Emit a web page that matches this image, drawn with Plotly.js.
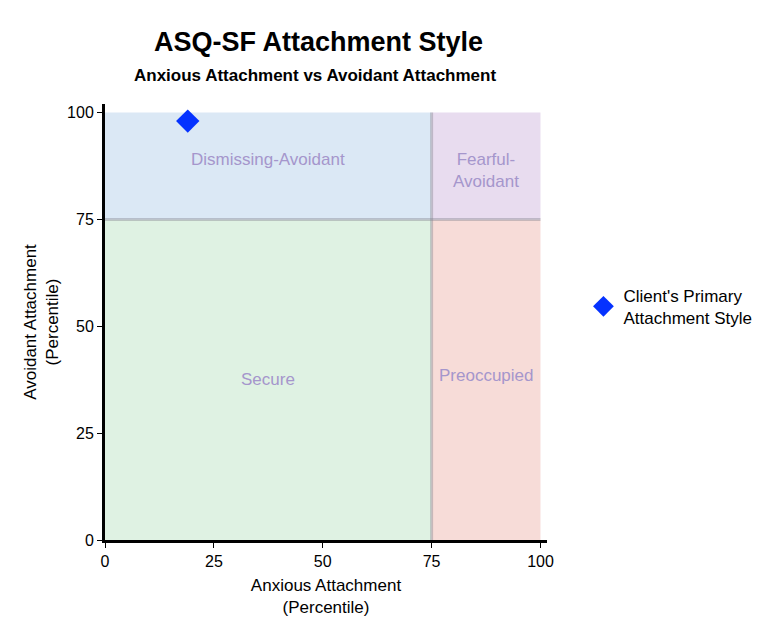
<!DOCTYPE html>
<html>
<head>
<meta charset="utf-8">
<script src="https://cdn.plot.ly/plotly-3.0.1.min.js"></script>
<style>html,body{margin:0;padding:0;background:#fff;}#chart{width:768px;height:622px;}</style>
</head>
<body>
<div id="chart"></div>
<script>
// Client point
const clientX = [19];
const clientY = [98];
const clientName = "Client's Primary<br>Attachment Style";

// Quadrants
const quadNames = ["Secure", "Dismissing-Avoidant", "Preoccupied", "Fearful-<br>Avoidant"];
const quadX0 = [0, 0, 75, 75];
const quadX1 = [75, 75, 100, 100];
const quadY0 = [0, 75, 0, 75];
const quadY1 = [75, 100, 75, 100];
const quadLabelY = [37.5, 89, 38.5, 86.5];
const quadColors = ["#dff2e3", "#dbe8f5", "#f7dcd8", "#e8dcef"];

const cutoff = 75;
const tickVals = [0, 25, 50, 75, 100];

const font = "Liberation Sans, Arial, Helvetica, sans-serif";

const shapes = [];
for (let i = 0; i < quadNames.length; i++) {
  shapes.push({type: 'rect', xref: 'x', yref: 'y', x0: quadX0[i], x1: quadX1[i], y0: quadY0[i], y1: quadY1[i],
    fillcolor: quadColors[i], line: {width: 0}, layer: 'below'});
}
shapes.push({type: 'line', xref: 'x', yref: 'y', x0: cutoff, x1: cutoff, y0: 0, y1: 100,
  line: {color: 'rgba(128,128,140,0.4)', width: 3}, layer: 'below'});
shapes.push({type: 'line', xref: 'x', yref: 'y', x0: 0, x1: 100, y0: cutoff, y1: cutoff,
  line: {color: 'rgba(128,128,140,0.4)', width: 3}, layer: 'below'});

const annotations = [];
for (let i = 0; i < quadNames.length; i++) {
  annotations.push({x: (quadX0[i] + quadX1[i]) / 2, y: quadLabelY[i], xref: 'x', yref: 'y', text: quadNames[i],
    showarrow: false, font: {family: font, size: 17, color: '#a596cc'}});
}
annotations.push({text: '<b>ASQ-SF Attachment Style</b>', xref: 'paper', yref: 'paper', x: 0.484, y: 1.0, yshift: 62,
  xanchor: 'center', yanchor: 'middle', showarrow: false, font: {family: font, size: 27, color: '#000'}});
annotations.push({text: '<b>Anxious Attachment vs Avoidant Attachment</b>', xref: 'paper', yref: 'paper', x: 0.476, y: 1.0, yshift: 29,
  xanchor: 'center', yanchor: 'middle', showarrow: false, font: {family: font, size: 17, color: '#000'}});

const data = [{
  type: 'scatter', mode: 'markers', x: clientX, y: clientY, name: clientName,
  marker: {symbol: 'diamond', size: 18, color: '#0532ff'}
}];

const layout = {
  width: 768, height: 622,
  margin: {l: 105, r: 220, t: 104, b: 82},
  paper_bgcolor: '#fff', plot_bgcolor: '#fff',
  font: {family: font, size: 16, color: '#000'},
  showlegend: true,
  legend: {x: 1.08, y: 0.535, xanchor: 'left', yanchor: 'middle', font: {family: font, size: 17, color: '#000'}},
  xaxis: {range: [0, 101.5], tickvals: tickVals, showgrid: false, zeroline: false, showline: true, linecolor: '#000', linewidth: 3,
    ticks: 'outside', ticklen: 5, tickwidth: 1, tickcolor: '#000', tickfont: {size: 16},
    title: {text: 'Anxious Attachment<br>(Percentile)', font: {size: 17}, standoff: 10}},
  yaxis: {range: [0, 102], tickvals: tickVals, showgrid: false, zeroline: false, showline: true, linecolor: '#000', linewidth: 3,
    ticks: 'outside', ticklen: 5, tickwidth: 1, tickcolor: '#000', tickfont: {size: 16},
    title: {text: 'Avoidant Attachment<br>(Percentile)', font: {size: 17}, standoff: 5}},
  shapes: shapes,
  annotations: annotations
};

Plotly.newPlot('chart', data, layout, {displayModeBar: false, staticPlot: true});
</script>
</body>
</html>
